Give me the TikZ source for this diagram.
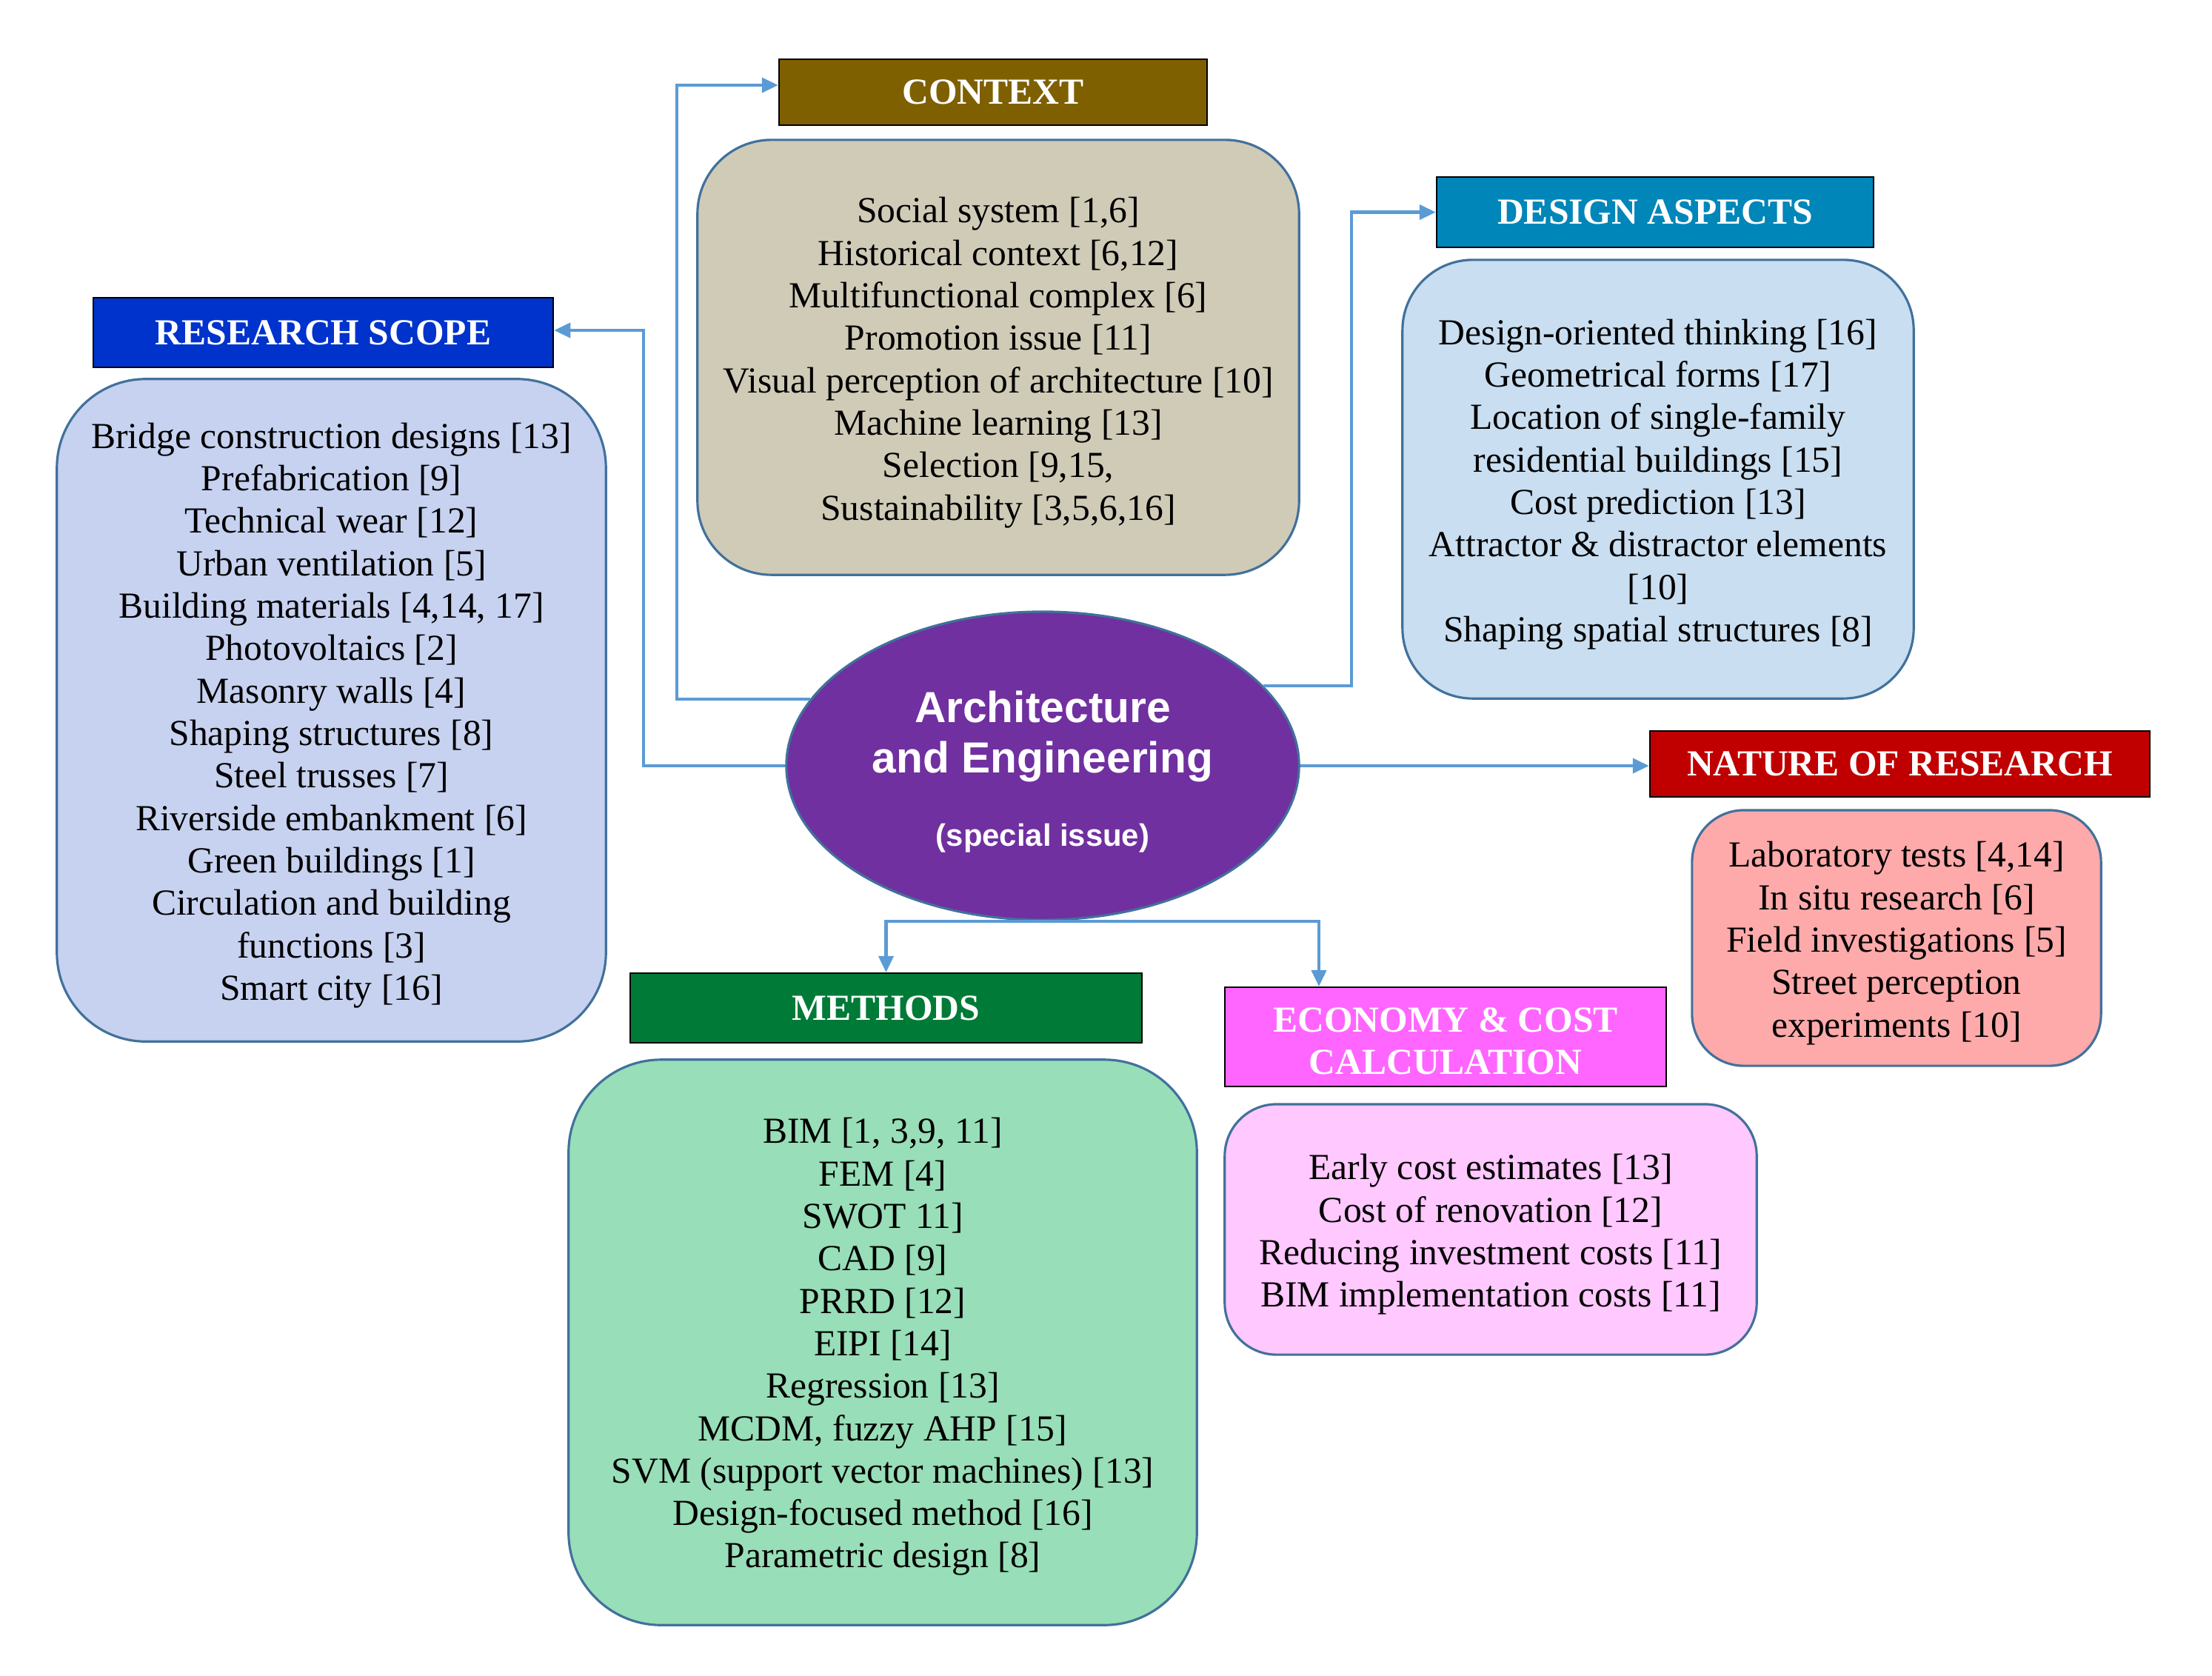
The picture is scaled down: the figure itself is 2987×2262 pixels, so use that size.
\documentclass[tikz,border=0pt]{standalone}
\usepackage{fontspec}
\setmainfont{Liberation Serif}
\newfontfamily\arialfont{Liberation Sans}
\usetikzlibrary{arrows.meta,shapes.geometric}
\definecolor{boxline}{HTML}{41719C}
\definecolor{connblue}{HTML}{5B9BD5}
\definecolor{ctxhead}{HTML}{7F6000}
\definecolor{ctxfill}{HTML}{D0CBB7}
\definecolor{rshead}{HTML}{0033CC}
\definecolor{rsfill}{HTML}{C7D2F0}
\definecolor{dahead}{HTML}{0086B9}
\definecolor{dafill}{HTML}{C9DEF0}
\definecolor{nrhead}{HTML}{C00000}
\definecolor{nrfill}{HTML}{FFAAAA}
\definecolor{mhead}{HTML}{007A37}
\definecolor{mfill}{HTML}{98DEB8}
\definecolor{ehead}{HTML}{FF66FF}
\definecolor{efill}{HTML}{FFC8FF}
\definecolor{purp}{HTML}{7030A0}
\begin{document}
\begin{tikzpicture}[x=0.01cm,y=-0.01cm,
  hdr/.style={draw=black, line width=0.6pt, text=white, inner sep=0pt, align=center,
    font=\fontsize{14.1}{16.3}\selectfont\bfseries},
  hdrtxt/.style={text=white, inner sep=0pt, align=center,
    font=\fontsize{14.1}{16.3}\selectfont\bfseries},
  cbox/.style={draw=boxline, line width=0.9pt, inner sep=0pt},
  btxt/.style={inner sep=0pt, align=center, text=black,
    font=\fontsize{14.1}{16.3}\selectfont},
  conn/.style={draw=connblue, line width=1.15pt, -{Triangle[length=0.22cm,width=0.2cm]}},
  etxt/.style={text=white, inner sep=0pt, anchor=base}
]
\useasboundingbox (0,0) rectangle (2987,2262);

% headers
\node[hdr, fill=ctxhead, minimum width=5.78cm, minimum height=0.89cm] (ctxh) at (1341,124.5) {CONTEXT};
\node[hdr, fill=rshead, minimum width=6.21cm, minimum height=0.94cm] (rsh) at (436.5,449) {RESEARCH SCOPE};
\node[hdr, fill=dahead, minimum width=5.90cm, minimum height=0.95cm] (dah) at (2235,286.5) {DESIGN ASPECTS};
\node[hdr, fill=nrhead, minimum width=6.75cm, minimum height=0.89cm] (nrh) at (2565.5,1031.5) {NATURE OF RESEARCH};
\node[hdr, fill=mhead, minimum width=6.91cm, minimum height=0.94cm] (mh) at (1196.5,1361) {METHODS};
\node[hdr, fill=ehead, minimum width=5.96cm, minimum height=1.34cm] (ech) at (1952,1400) {};
\node[hdrtxt] (echt) at ([yshift=-0.06cm]ech.center) {ECONOMY \& COST\\CALCULATION};

% content boxes
\node[cbox, fill=ctxfill, minimum width=8.12cm, minimum height=5.87cm, rounded corners=1.0cm] (ctxb) at (1348,482.5) {};
\node[btxt] (ctxt) at ([yshift=-0.07cm]ctxb.center)
 {Social system [1,6]\\Historical context [6,12]\\Multifunctional complex [6]\\Promotion issue [11]\\Visual perception of architecture [10]\\Machine learning [13]\\Selection [9,15,\\Sustainability [3,5,6,16]};
\node[cbox, fill=rsfill, minimum width=7.41cm, minimum height=8.94cm, rounded corners=1.2cm] (rsb) at (447.5,959) {};
\node[btxt] (rst) at ([yshift=-0.07cm]rsb.center)
 {Bridge construction designs [13]\\Prefabrication [9]\\Technical wear [12]\\Urban ventilation [5]\\Building materials [4,14, 17]\\Photovoltaics [2]\\Masonry walls [4]\\Shaping structures [8]\\Steel trusses [7]\\Riverside embankment [6]\\Green buildings [1]\\Circulation and building\\functions [3]\\Smart city [16]};
\node[cbox, fill=dafill, minimum width=6.90cm, minimum height=5.92cm, rounded corners=0.95cm] (dab) at (2239,647) {};
\node[btxt] (dat) at ([yshift=-0.07cm]dab.center)
 {Design-oriented thinking [16]\\Geometrical forms [17]\\Location of single-family\\residential buildings [15]\\Cost prediction [13]\\Attractor \& distractor elements\\{}[10]\\Shaping spatial structures [8]};
\node[cbox, fill=nrfill, minimum width=5.52cm, minimum height=3.45cm, rounded corners=0.7cm] (nrb) at (2561,1266.5) {};
\node[btxt] (nrt) at ([yshift=-0.07cm]nrb.center)
 {Laboratory tests [4,14]\\In situ research [6]\\Field investigations [5]\\Street perception\\experiments [10]};
\node[cbox, fill=mfill, minimum width=8.48cm, minimum height=7.63cm, rounded corners=1.25cm] (mb) at (1192,1812.5) {};
\node[btxt] (mt) at ([yshift=-0.06cm]mb.center)
 {BIM [1, 3,9, 11]\\FEM [4]\\SWOT 11]\\CAD [9]\\PRRD [12]\\EIPI [14]\\Regression [13]\\MCDM, fuzzy AHP [15]\\SVM (support vector machines) [13]\\Design-focused method [16]\\Parametric design [8]};
\node[cbox, fill=efill, minimum width=7.18cm, minimum height=3.38cm, rounded corners=0.7cm] (eb) at (2013,1660) {};
\node[btxt] (et) at ([yshift=-0.07cm]eb.center)
 {Early cost estimates [13]\\Cost of renovation [12]\\Reducing investment costs [11]\\BIM implementation costs [11]};

% central ellipse
\node[ellipse, draw=boxline, line width=0.9pt, fill=purp, minimum width=6.92cm, minimum height=4.16cm, inner sep=0pt] (ell) at (1408,1034) {};
\node[etxt, font=\arialfont\bfseries\fontsize{16.7}{20}\selectfont] (et1) at (1408,975) {Architecture};
\node[etxt, font=\arialfont\bfseries\fontsize{16.7}{20}\selectfont] (et2) at (1408,1043) {and Engineering};
\node[etxt, font=\arialfont\bfseries\fontsize{11.9}{14}\selectfont] (et3) at (1408,1142) {(special issue)};

% bend points
\coordinate (ctxbend) at (914,115);
\coordinate (rsbend) at (869,446);
\coordinate (dabend) at (1825,286.5);
\coordinate (ecbend) at (1781,1331);

% connectors
\draw[conn] (ell.164) -| (ctxbend) -- (ctxh.west |- ctxbend);
\draw[conn] (ell.west) -| (rsbend) -- (rsh.east |- rsbend);
\draw[conn] (ell.20) -| (dabend) -- (dah.west);
\draw[conn] (ell.east) -- (nrh.west |- ell.east);
\draw[conn] (ell.south) -| (mh.north);
\draw[conn] (ell.south) -| (ecbend |- ech.north);
\end{tikzpicture}
\end{document}
